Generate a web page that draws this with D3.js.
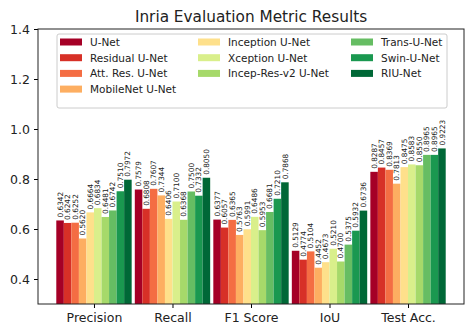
<!DOCTYPE html>
<html>
<head>
<meta charset="utf-8">
<script src="https://cdn.jsdelivr.net/npm/d3@7"></script>
<style>
  body { margin: 0; background: #fff; }
  text { font-family: "DejaVu Sans", sans-serif; fill: #222; }
</style>
</head>
<body>
<div id="chart"></div>
<script>
var metrics = ["Precision", "Recall", "F1 Score", "IoU", "Test Acc."];
var models = ["U-Net", "Residual U-Net", "Att. Res. U-Net", "MobileNet U-Net",
  "Inception U-Net", "Xception U-Net", "Incep-Res-v2 U-Net",
  "Trans-U-Net", "Swin-U-Net", "RIU-Net"];
var colors = ["#a50026", "#d73027", "#f46d43", "#fdae61", "#fee08b",
  "#d9ef8b", "#a6d96a", "#66bd63", "#1a9850", "#006837"];

// one array per metric, in model order
var precision = [0.6342, 0.6242, 0.6252, 0.5620, 0.6664, 0.6834, 0.6481, 0.6742, 0.7510, 0.7972];
var recall    = [0.7579, 0.6808, 0.7607, 0.7344, 0.6406, 0.7100, 0.6368, 0.7500, 0.7332, 0.8050];
var f1        = [0.6377, 0.6057, 0.6365, 0.5763, 0.5991, 0.6486, 0.5953, 0.6681, 0.7210, 0.7868];
var iou       = [0.5129, 0.4774, 0.5104, 0.4452, 0.4673, 0.5210, 0.4700, 0.5375, 0.5932, 0.6736];
var testAcc   = [0.8287, 0.8457, 0.8369, 0.7813, 0.8475, 0.8583, 0.8550, 0.8965, 0.8965, 0.9223];
var values = [precision, recall, f1, iou, testAcc];
var yTicks = [0.4, 0.6, 0.8, 1.0, 1.2, 1.4];

var width = 474, height = 335;
var pL = 38, pR = 464, pT = 29, pB = 304;

var svg = d3.select("#chart").append("svg")
  .attr("width", width)
  .attr("height", height);

var x = d3.scaleLinear().domain([-0.713, 4.713]).range([pL, pR]);
var y = d3.scaleLinear().domain([0.3, 1.4]).range([pB, pT]);
var bw = 0.096;

// flatten for drawing
var bars = [];
values.forEach((arr, g) => {
  arr.forEach((v, i) => {
    bars.push({ g: g, i: i, v: v });
  });
});

var barX = d => x(d.g + (d.i - 4.5) * bw - bw / 2);
var barW = x(bw) - x(0);

svg.append("g")
  .selectAll("rect")
  .data(bars)
  .enter()
  .append("rect")
  .attr("x", barX)
  .attr("width", barW)
  .attr("y", d => y(d.v))
  .attr("height", d => pB - y(d.v))
  .attr("fill", d => colors[d.i]);

// value labels, rotated
svg.append("g")
  .selectAll("text")
  .data(bars)
  .enter()
  .append("text")
  .attr("transform", d => "translate(" + (barX(d) + barW / 2 + 2.6) + "," + (y(d.v) - 3) + ") rotate(-90)")
  .style("font-size", "7.3px")
  .text(d => d.v.toFixed(4));

// axes
var yAxis = d3.axisLeft(y).tickValues(yTicks).tickFormat(d3.format(".1f")).tickSize(4).tickPadding(4);
var gy = svg.append("g").attr("transform", "translate(" + pL + ",0)").call(yAxis);
gy.select(".domain").remove();
gy.selectAll("text").style("font-size", "12.5px").style("font-family", "DejaVu Sans");

var xAxis = d3.axisBottom(x).tickValues([0, 1, 2, 3, 4]).tickFormat(i => metrics[i]).tickSize(4).tickPadding(5);
var gx = svg.append("g").attr("transform", "translate(0," + pB + ")").call(xAxis);
gx.select(".domain").remove();
gx.selectAll("text").style("font-size", "12.5px").style("font-family", "DejaVu Sans");

svg.append("rect")
  .attr("x", pL).attr("y", pT)
  .attr("width", pR - pL).attr("height", pB - pT)
  .attr("fill", "none").attr("stroke", "#222").attr("stroke-width", 1);

// title
svg.append("text")
  .attr("x", 251)
  .attr("y", 22)
  .attr("text-anchor", "middle")
  .style("font-size", "15.3px")
  .text("Inria Evaluation Metric Results");

// legend
var lg = svg.append("g");
lg.append("rect")
  .attr("x", 57).attr("y", 34).attr("width", 390).attr("height", 74)
  .attr("rx", 2)
  .attr("fill", "#fff").attr("fill-opacity", 0.8)
  .attr("stroke", "#cccccc");
var colX = [60, 198, 351];
var items = models.map((m, i) => {
  var c = i < 4 ? 0 : (i < 7 ? 1 : 2);
  var r = i < 4 ? i : (i < 7 ? i - 4 : i - 7);
  return { name: m, c: c, r: r, color: colors[i] };
});
var li = lg.selectAll("g.item")
  .data(items)
  .enter()
  .append("g")
  .attr("transform", d => "translate(" + colX[d.c] + "," + (42 + d.r * 15.7) + ")");
li.append("rect")
  .attr("x", 0).attr("y", -3.5).attr("width", 22).attr("height", 7)
  .attr("fill", d => d.color);
li.append("text")
  .attr("x", 30).attr("y", 4)
  .style("font-size", "10.5px")
  .text(d => d.name);
</script>
</body>
</html>
